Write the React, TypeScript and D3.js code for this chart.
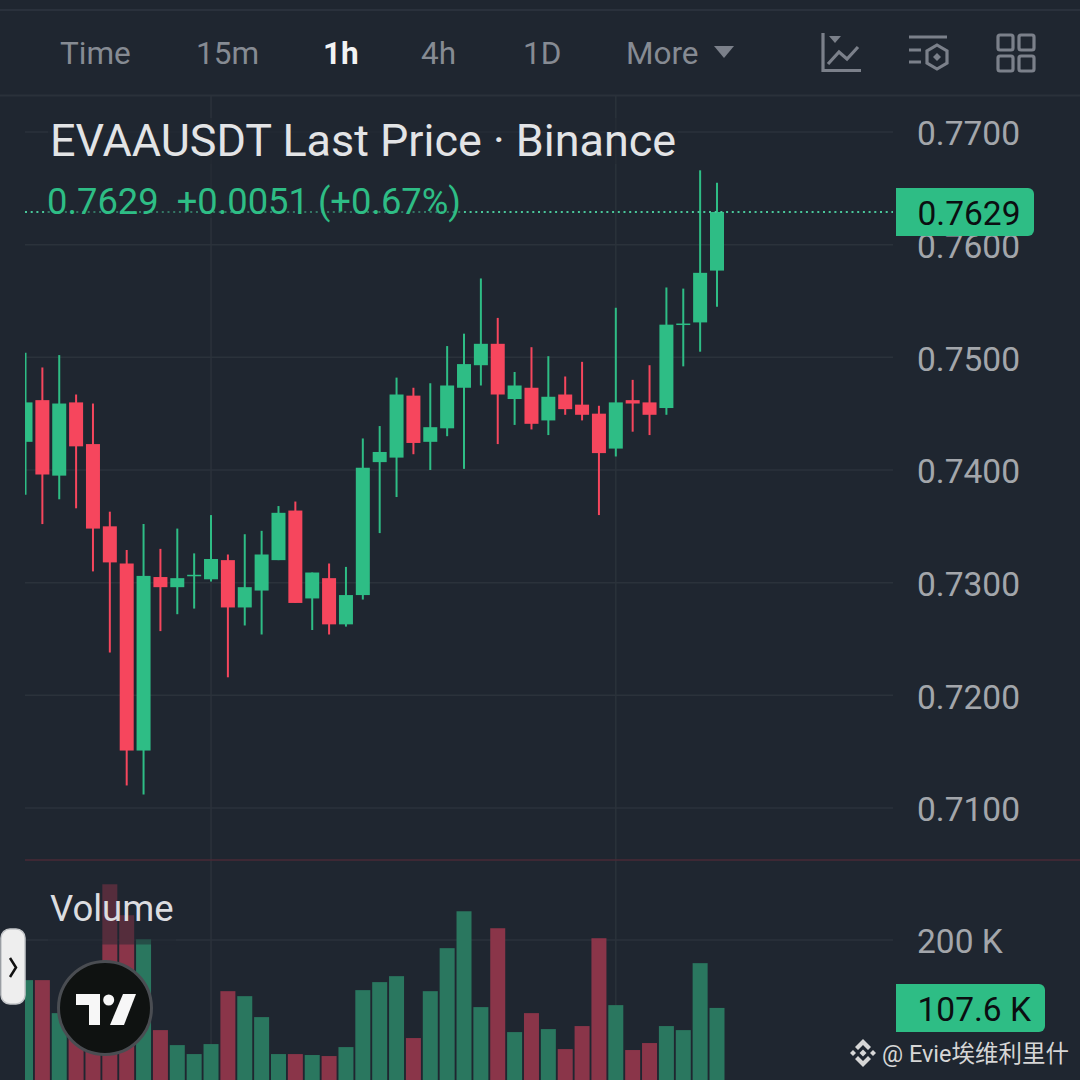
import * as d3 from 'd3';
import * as React from 'react';
import { useEffect, useRef } from 'react';

// one entry per hourly candle, oldest first
const opens = [
  0.7425, 0.7462, 0.7395, 0.7460, 0.7423, 0.7350, 0.7317, 0.7151, 0.7305, 0.7296, 0.7306,
  0.7303, 0.7320, 0.7278, 0.7293, 0.7320, 0.7364, 0.7286, 0.7304, 0.7263, 0.7289, 0.7407,
  0.7411, 0.7466, 0.7425, 0.7437, 0.7473, 0.7493, 0.7512, 0.7463, 0.7473, 0.7444, 0.7467,
  0.7458, 0.7450, 0.7419, 0.7462, 0.7460, 0.7455, 0.7529, 0.7531, 0.7577
];
const highs = [
  0.7504, 0.7491, 0.7502, 0.7467, 0.7459, 0.7363, 0.7329, 0.7352, 0.7330, 0.7348, 0.7326,
  0.7360, 0.7325, 0.7343, 0.7346, 0.7368, 0.7372, 0.7309, 0.7317, 0.7314, 0.7428, 0.7439,
  0.7482, 0.7473, 0.7477, 0.7510, 0.7521, 0.7570, 0.7535, 0.7487, 0.7509, 0.7501, 0.7483,
  0.7496, 0.7457, 0.7544, 0.7480, 0.7493, 0.7562, 0.7561, 0.7666, 0.7655
];
const lows = [
  0.7378, 0.7352, 0.7374, 0.7366, 0.7310, 0.7238, 0.7120, 0.7112, 0.7257, 0.7272, 0.7277,
  0.7301, 0.7216, 0.7262, 0.7254, 0.7320, 0.7282, 0.7258, 0.7254, 0.7261, 0.7285, 0.7344,
  0.7376, 0.7414, 0.7400, 0.7430, 0.7401, 0.7475, 0.7423, 0.7440, 0.7436, 0.7431, 0.7449,
  0.7444, 0.7360, 0.7412, 0.7434, 0.7431, 0.7449, 0.7492, 0.7505, 0.7545
];
const closes = [
  0.7460, 0.7396, 0.7459, 0.7421, 0.7348, 0.7318, 0.7151, 0.7306, 0.7296, 0.7304, 0.7307,
  0.7321, 0.7278, 0.7296, 0.7325, 0.7362, 0.7282, 0.7309, 0.7263, 0.7289, 0.7402, 0.7416,
  0.7467, 0.7424, 0.7438, 0.7475, 0.7494, 0.7512, 0.7467, 0.7475, 0.7441, 0.7465, 0.7454,
  0.7449, 0.7415, 0.7460, 0.7459, 0.7449, 0.7529, 0.7530, 0.7575, 0.7629
];
// thousands
const volumes = [
  145.4, 145.4, 100.5, 84, 84, 275.8, 233.7, 201, 77.4, 57, 44.8,
  58.4, 130.4, 123.6, 95.1, 44.8, 44.8, 43.5, 42.1, 54.3, 131.8, 142.7,
  150.8, 66.6, 130.4, 188.9, 239.1, 108.7, 216, 74.7, 100.5, 78.8, 51.6,
  82.9, 202.4, 111.4, 50.3, 59.8, 82.9, 77.4, 168.5, 107.6
];

const priceTicks = [0.77, 0.76, 0.75, 0.74, 0.73, 0.72, 0.71];
const volumeTicks = [200];
const timeTicks = [11, 35];
const tabs = ['Time', '15m', '1h', '4h', '1D', 'More'];
const tabX = [60, 196, 323, 421, 523, 626];

const BG = '#1f2630';
const GREEN = '#2ebd85';
const RED = '#f6465d';
const GREEN_VOL = '#2a775f';
const RED_VOL = '#8a3549';
const GRID = '#2b323b';
const LABEL = '#a3a6ab';
const ICON = '#7b808a';
const FONT = 'Roboto, "Noto Sans CJK SC", sans-serif';

export default function App() {
  const mountPoint = useRef<SVGSVGElement | null>(null);

  useEffect(() => {
    const svg = d3.select(mountPoint.current);
    svg.selectAll('*').remove();

    const left = 25;
    const right = 893;
    const x = d3.scaleLinear().domain([0, closes.length - 1]).range([25.5, 717]);
    const y = d3.scaleLinear().domain([0.71, 0.77]).range([808, 132]);
    const v = d3.scaleLinear().domain([0, 200]).range([1087, 940]);
    const isUp = (i: number) => closes[i] >= opens[i];
    const idx = d3.range(closes.length);

    svg.append('defs').append('clipPath').attr('id', 'plot')
      .append('rect').attr('x', left).attr('y', 96).attr('width', right - left).attr('height', 984);

    // header
    svg.append('rect').attr('width', 1080).attr('height', 1080).attr('fill', BG);
    svg.append('line').attr('x1', 0).attr('x2', 1080).attr('y1', 10).attr('y2', 10)
      .attr('stroke', '#2f3640').attr('stroke-width', 1.5);
    svg.append('line').attr('x1', 0).attr('x2', 1080).attr('y1', 95.5).attr('y2', 95.5)
      .attr('stroke', '#2a313a').attr('stroke-width', 2);

    svg.selectAll('.tab').data(tabs).enter().append('text')
      .attr('class', 'tab')
      .attr('x', (d, i) => tabX[i])
      .attr('y', 64)
      .attr('font-family', FONT)
      .attr('font-size', 31.5)
      .attr('font-weight', d => (d === '1h' ? 700 : 400))
      .attr('fill', d => (d === '1h' ? '#f2f3f4' : '#868b93'))
      .text(d => d);
    svg.append('path').attr('d', 'M714 46H734L724 58Z').attr('fill', ICON);

    const icons = svg.append('g').attr('fill', 'none').attr('stroke', ICON).attr('stroke-width', 3.2);
    icons.append('path').attr('d', 'M823 33V70.5H861');
    icons.append('path').attr('d', 'M829 36H841L835 43Z').attr('fill', ICON).attr('stroke', 'none');
    icons.append('path').attr('d', 'M828 64L839 52L847 59L858 47');
    icons.append('path').attr('d', 'M909 37H947M909 50H921M909 62H921');
    icons.append('path').attr('d', 'M937 45L947 51V63L937 69L927 63V51Z');
    icons.append('path').attr('d', 'M937 53L941 57L937 61L933 57Z').attr('fill', ICON).attr('stroke', 'none');
    [[998, 35], [1019, 35], [998, 56], [1019, 56]].forEach(p => {
      icons.append('rect').attr('x', p[0]).attr('y', p[1]).attr('width', 15).attr('height', 15).attr('rx', 2);
    });

    // grid
    const grid = svg.append('g').attr('stroke', GRID).attr('stroke-width', 1.5);
    grid.selectAll('.gx').data(timeTicks).enter().append('line')
      .attr('x1', d => x(d)).attr('x2', d => x(d)).attr('y1', 96).attr('y2', 1080);
    grid.selectAll('.gy').data(priceTicks).enter().append('line')
      .attr('x1', left).attr('x2', right).attr('y1', d => y(d)).attr('y2', d => y(d));
    grid.selectAll('.gv').data(volumeTicks).enter().append('line')
      .attr('x1', left).attr('x2', right).attr('y1', d => v(d)).attr('y2', d => v(d));
    svg.append('line').attr('x1', 25).attr('x2', 1080).attr('y1', 860).attr('y2', 860)
      .attr('stroke', '#4a2a36').attr('stroke-width', 1.5);

    const plot = svg.append('g').attr('clip-path', 'url(#plot)');

    // volume
    plot.selectAll('.vol').data(idx).enter().append('rect')
      .attr('class', 'vol')
      .attr('x', i => x(i) - 7.5)
      .attr('width', 15)
      .attr('y', i => v(volumes[i]))
      .attr('height', i => v(0) - v(volumes[i]))
      .attr('fill', i => (isUp(i) ? GREEN_VOL : RED_VOL));

    // candles
    plot.selectAll('.wick').data(idx).enter().append('line')
      .attr('class', 'wick')
      .attr('x1', i => x(i)).attr('x2', i => x(i))
      .attr('y1', i => y(highs[i])).attr('y2', i => y(lows[i]))
      .attr('stroke', i => (isUp(i) ? GREEN : RED))
      .attr('stroke-width', 2);
    plot.selectAll('.body').data(idx).enter().append('rect')
      .attr('class', 'body')
      .attr('x', i => x(i) - 7)
      .attr('width', 14)
      .attr('y', i => y(Math.max(opens[i], closes[i])))
      .attr('height', i => Math.max(1.5, Math.abs(y(opens[i]) - y(closes[i]))))
      .attr('fill', i => (isUp(i) ? GREEN : RED));

    const last = closes[closes.length - 1];
    svg.append('line').attr('x1', left).attr('x2', right)
      .attr('y1', y(last)).attr('y2', y(last))
      .attr('stroke', '#49c79a').attr('stroke-width', 2).attr('stroke-dasharray', '2 3.7');

    // legend backdrops dim what passes under them
    svg.append('rect').attr('x', 48).attr('y', 118).attr('width', 416).attr('height', 100)
      .attr('fill', BG).attr('opacity', 0.5);
    svg.append('rect').attr('x', 48).attr('y', 118).attr('width', 630).attr('height', 46)
      .attr('fill', BG).attr('opacity', 0.5);
    svg.append('rect').attr('x', 48).attr('y', 880).attr('width', 128).attr('height', 64.5)
      .attr('fill', BG).attr('opacity', 0.5);

    svg.append('text').attr('x', 50).attr('y', 156)
      .attr('font-family', FONT).attr('font-size', 44).attr('fill', '#e3e4e6')
      .attr('textLength', 626).attr('lengthAdjust', 'spacingAndGlyphs')
      .text('EVAAUSDT Last Price · Binance');
    svg.append('text').attr('x', 47).attr('y', 214)
      .attr('font-family', FONT).attr('font-size', 36).attr('fill', GREEN)
      .attr('xml:space', 'preserve')
      .attr('textLength', 414).attr('lengthAdjust', 'spacingAndGlyphs')
      .text(d3.format('.4f')(last) + '  +0.0051 (+0.67%)');
    svg.append('text').attr('x', 50).attr('y', 921)
      .attr('font-family', FONT).attr('font-size', 36.5).attr('fill', '#dcdde0')
      .text('Volume');

    // right axes
    const priceAxis = d3.axisRight(y).tickValues(priceTicks).tickFormat(d3.format('.4f') as any)
      .tickSize(0).tickPadding(24);
    const volumeAxis = d3.axisRight(v).tickValues(volumeTicks).tickFormat((d: any) => d + ' K')
      .tickSize(0).tickPadding(24);
    [priceAxis, volumeAxis].forEach((axis: any) => {
      const g = svg.append('g').attr('transform', 'translate(893,2)').call(axis);
      g.select('.domain').remove();
      g.selectAll('text').attr('font-family', FONT).attr('font-size', 33.5).attr('fill', LABEL);
    });

    // last value tags
    const tag = (w: number, cy: number, label: string) => {
      svg.append('path')
        .attr('d', `M896 ${cy - 24}H${896 + w - 6}a6 6 0 0 1 6 6V${cy + 18}a6 6 0 0 1 -6 6H896Z`)
        .attr('fill', GREEN);
      svg.append('text').attr('x', 917.5).attr('y', cy + 13)
        .attr('font-family', FONT).attr('font-size', 33.5).attr('fill', '#0b0e11')
        .text(label);
    };
    tag(138, y(last), d3.format('.4f')(last));
    tag(149, v(volumes[volumes.length - 1]), volumes[volumes.length - 1] + ' K');

    // side handle and logo
    svg.append('rect').attr('x', 1).attr('y', 929).attr('width', 24).attr('height', 75).attr('rx', 9)
      .attr('fill', '#eeeeee').attr('stroke', '#c4c6c9').attr('stroke-width', 1.5);
    svg.append('path').attr('d', 'M10 958L16 967.5L10 977').attr('fill', 'none').attr('stroke', '#111').attr('stroke-width', 2.5);

    svg.append('circle').attr('cx', 105).attr('cy', 1008).attr('r', 46.5)
      .attr('fill', '#0f1211').attr('stroke', '#4a4d52').attr('stroke-width', 3);
    svg.append('path').attr('d', 'M76 994H100V1025H89V1005H76Z').attr('fill', '#f7f7f7');
    svg.append('circle').attr('cx', 108.7).attr('cy', 1000).attr('r', 5.5).attr('fill', '#f7f7f7');
    svg.append('path').attr('d', 'M123 994H136L124 1025H110Z').attr('fill', '#f7f7f7');

    // watermark
    const mark = svg.append('g').attr('transform', 'translate(863,1053)').attr('fill', '#d6d6d6');
    mark.append('path').attr('d', 'M0 -14L8 -6L5 -3L0 -8L-5 -3L-8 -6Z');
    mark.append('path').attr('d', 'M0 14L8 6L5 3L0 8L-5 3L-8 6Z');
    mark.append('path').attr('d', 'M0 -3.5L3.5 0L0 3.5L-3.5 0Z');
    mark.append('path').attr('d', 'M-10 -3L-7 0L-10 3L-13 0Z');
    mark.append('path').attr('d', 'M10 -3L13 0L10 3L7 0Z');
    svg.append('text').attr('x', 882).attr('y', 1062)
      .attr('font-family', FONT).attr('font-size', 23.5).attr('fill', '#d6d6d6')
      .text('@ Evie埃维利里什');
  }, []);

  return (
    <svg
      ref={mountPoint}
      width={1080}
      height={1080}
      style={{ position: 'absolute', left: 0, top: 0 }}
    />
  );
}
